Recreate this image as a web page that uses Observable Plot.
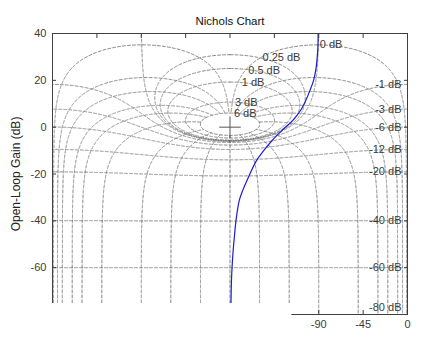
<!DOCTYPE html>
<html><head><meta charset="utf-8">
<script src="https://cdn.jsdelivr.net/npm/d3@7"></script>
<script src="https://cdn.jsdelivr.net/npm/@observablehq/plot@0.6"></script>
<style>body{margin:0;background:#fff;}</style>
</head><body><div id="chart"></div>
<script>
// Nichols grid levels (closed-loop magnitude in dB, closed-loop phase in deg)
const magnitudeContoursDb = [6, 3, 1, 0.5, 0.25, 0, -1, -3, -6, -12, -20, -40, -60, -80];
const phaseContoursDeg = [-1, -5, -10, -20, -30, -50, -90, -120, -150, -180, -210, -240, -270, -310, -330, -340, -350, -355, -359];
// axis ticks
const xTicks = [-360, -315, -270, -225, -180, -135, -90, -45, 0];
const yTicks = [-80, -60, -40, -20, 0, 20, 40];
// open-loop response
const curvePhase = [-90.6, -91.0, -92.8, -95.3, -99.0, -103.3, -108.5, -116.6, -127.5, -137.5, -145.8, -153.0, -160.5, -167.1, -170.6, -173.9, -175.6, -176.8, -177.9, -178.6, -179.0, -179.2];
const curveGain  = [40, 33, 25, 19.9, 15.6, 11.3, 7.1, 2.8, -1.5, -5.8, -10.0, -14.2, -20.6, -27.0, -31.3, -39.8, -47.0, -52.7, -59.8, -66.7, -75.3, -80];
// contour labels
const innerLabelText  = ["0 dB", "0.25 dB", "0.5 dB", "1 dB", "3 dB", "6 dB"];
const innerLabelPhase = [-89, -147, -161.5, -168, -175, -176];
const innerLabelGain  = [35.3, 29.9, 24.2, 19.2, 10.5, 5.7];
const edgeLabelText = ["-1 dB", "-3 dB", "-6 dB", "-12 dB", "-20 dB", "-40 dB", "-60 dB", "-80 dB"];
const edgeLabelGain = [18.2, 7.7, 0.0, -9.5, -19.1, -40, -60, -77];
// blank patch in the lower-left corner of the reference
const maskPhase = [-117.3, -470];
const maskGain = [-75.3, -140];

const D = Math.PI / 180;
function wrapPhase(re, im) { let a = Math.atan2(im, re) / D; if (a > 0) a -= 360; return a; }
// L = T/(1-T) with T = t*exp(j*psi)
function openLoop(t, psiDeg) {
  const p = psiDeg * D;
  const tr = t * Math.cos(p), ti = t * Math.sin(p);
  const dr = 1 - tr, di = -ti;
  const den = dr * dr + di * di;
  const lr = (tr * dr + ti * di) / den, li = (ti * dr - tr * di) / den;
  const g = 10 * Math.log10(lr * lr + li * li);
  return {phase: wrapPhase(lr, li), gain: isFinite(g) ? g : NaN};
}
const gridData = [];
magnitudeContoursDb.forEach((m, k) => {
  const M = Math.pow(10, m / 20);
  const a0 = m === 0 ? -0.05 : 0, a1 = m === 0 ? -359.95 : -360;
  const n = 3600;
  for (let i = 0; i <= n; i++) {
    const psi = a0 + (a1 - a0) * i / n;
    gridData.push({...openLoop(M, psi), id: "m" + k});
  }
});
// phase contours run up to the highest magnitude contour
const sMax = Math.max(...magnitudeContoursDb) / 20;
phaseContoursDeg.forEach((psi, k) => {
  const n = 6000;
  for (let i = 0; i <= n; i++) {
    const s = -4.5 + (sMax + 4.5) * i / n;
    gridData.push({...openLoop(Math.pow(10, s), psi), id: "p" + k});
  }
});
const curve = curvePhase.map((p, i) => ({phase: p, gain: curveGain[i]}));
const innerLabels = innerLabelText.map((t, i) => ({t, phase: innerLabelPhase[i], gain: innerLabelGain[i]}));
const edgeLabels = edgeLabelText.map((t, i) => ({t, phase: 0, gain: edgeLabelGain[i]}));

const gridStyle = {stroke: "#7c7c7c", strokeWidth: 0.9, strokeDasharray: "3,2", clip: true};
const labelColor = "#3a3a3a";
const fmt = d => `${d}`;

const chart = Plot.plot({
  width: 439, height: 341,
  marginLeft: 52, marginRight: 32, marginTop: 33, marginBottom: 27,
  x: {domain: [-360, 0]},
  y: {domain: [-80, 40]},
  style: {fontFamily: "'Liberation Sans', Arial, sans-serif", fontSize: "11px", background: "white", color: "#3c3c3c"},
  marks: [
    Plot.line(gridData, {x: "phase", y: "gain", z: "id", ...gridStyle}),
    Plot.text(innerLabels, {x: "phase", y: "gain", text: "t", textAnchor: "start", fill: labelColor, fontSize: 11}),
    Plot.text(edgeLabels, {x: "phase", y: "gain", text: "t", textAnchor: "end", dx: -6, fill: labelColor, fontSize: 11}),
    Plot.dot([{phase: -180, gain: 0}], {x: "phase", y: "gain", symbol: "plus", r: 7, stroke: "#555", strokeWidth: 1}),
    Plot.line(curve, {x: "phase", y: "gain", stroke: "#1c1cd0", strokeWidth: 1.2, curve: "catmull-rom", clip: true}),
    Plot.frame({stroke: "#404040"}),
    Plot.axisX(xTicks, {anchor: "bottom", tickSize: -4, tickPadding: 10, tickFormat: fmt, label: null}),
    Plot.axisX(xTicks, {anchor: "top", tickSize: -4, tickFormat: () => "", label: null}),
    Plot.axisY(yTicks, {anchor: "left", tickSize: -4, tickPadding: 10, tickFormat: fmt, label: null}),
    Plot.axisY(yTicks, {anchor: "right", tickSize: -4, tickFormat: () => "", label: null}),
    Plot.rect([{}], {x1: () => maskPhase[0], x2: () => maskPhase[1], y1: () => maskGain[0], y2: () => maskGain[1], fill: "white"}),
    Plot.text(["Nichols Chart"], {frameAnchor: "top", dy: -17, fontSize: 11.5, fill: "#111"}),
    Plot.text(["Open-Loop Gain (dB)"], {frameAnchor: "left", textAnchor: "middle", rotate: -90, dx: -36.5, dy: 0, fontSize: 12, fill: "#222"})
  ]
});
document.getElementById("chart").appendChild(chart);
</script>
</body></html>
